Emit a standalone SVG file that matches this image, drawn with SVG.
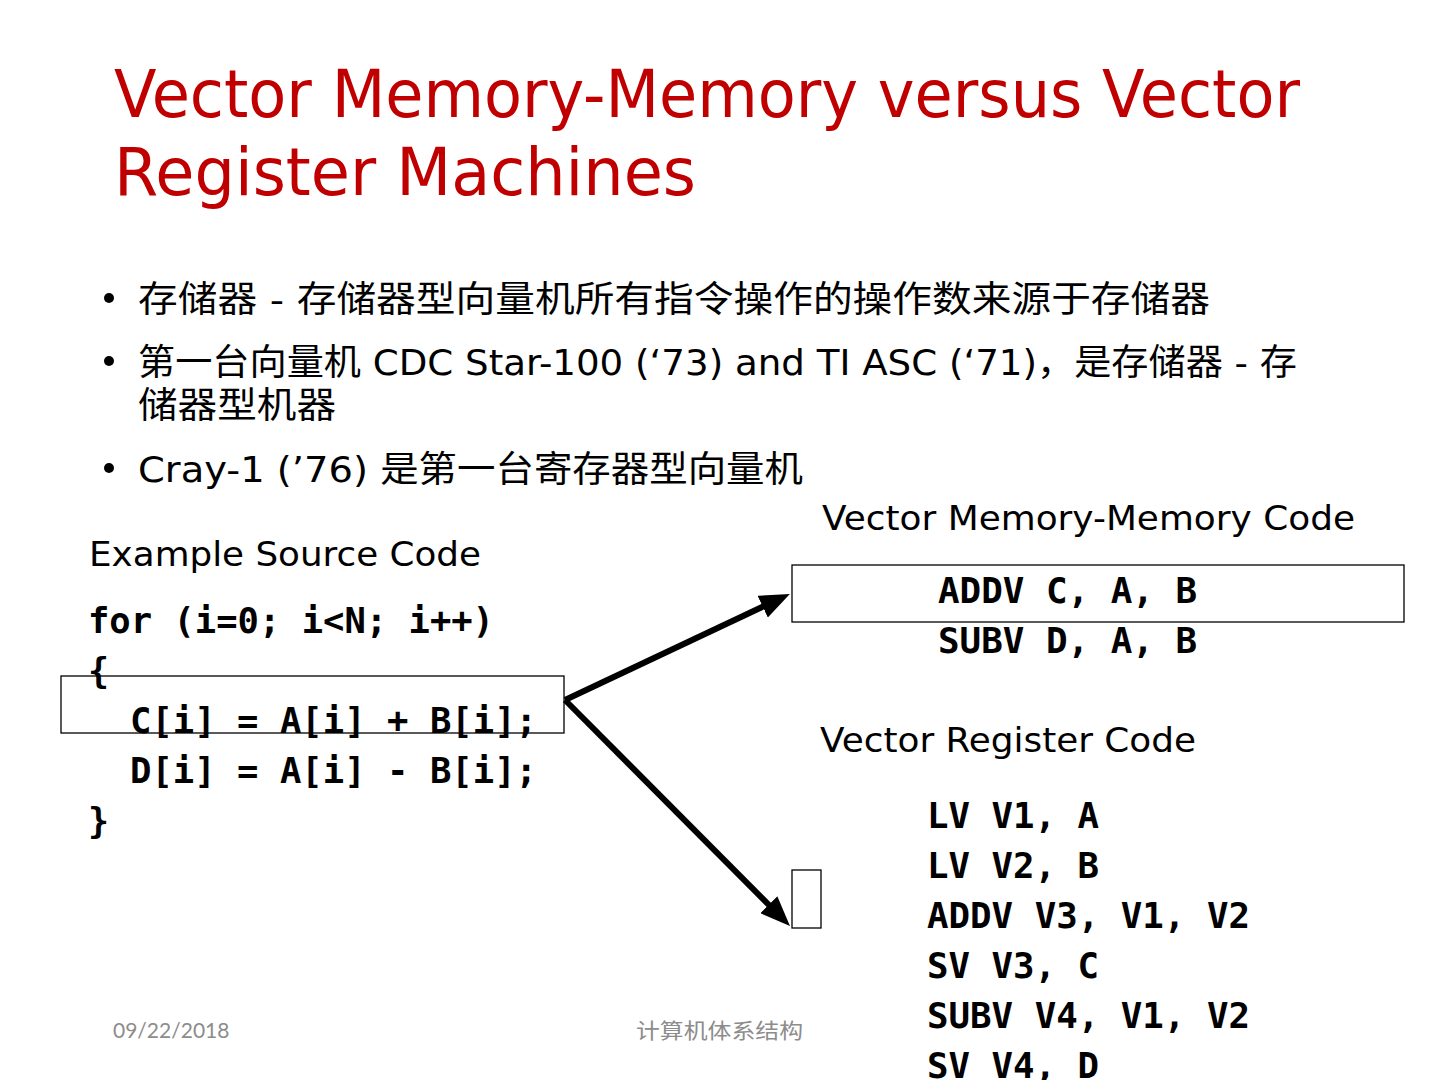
<svg xmlns="http://www.w3.org/2000/svg" width="1440" height="1080" viewBox="0 0 1440 1080">
<style>
.title{font-family:"DejaVu Sans","Liberation Sans",sans-serif;font-size:66px;fill:#C00000}
.bul{font-family:"DejaVu Sans","Noto Sans CJK SC",sans-serif;font-size:36px;fill:#000}
.lab{font-family:"DejaVu Sans","Liberation Sans",sans-serif;font-size:34px;fill:#000}
.code{font-family:"DejaVu Sans Mono","Liberation Mono",monospace;font-weight:bold;font-size:35px;fill:#000}
.foot{font-family:"Lato","Noto Sans CJK SC",sans-serif;font-size:21px;fill:#8c8c8c}
.box{fill:none;stroke:#000;stroke-width:1.3}
.arr{stroke:#000;stroke-width:6;fill:none}
</style>
<defs>
<marker id="ah" markerWidth="5" markerHeight="4" refX="3" refY="2" orient="auto" markerUnits="strokeWidth">
<path d="M0,0 L5,2 L0,4 Z" fill="#000"/>
</marker>
</defs>
<rect width="1440" height="1080" fill="#fff"/>
<g id="title">
<text class="title" x="114" y="117" textLength="1186" lengthAdjust="spacingAndGlyphs">Vector Memory-Memory versus Vector</text>
<text class="title" x="114" y="195" textLength="582" lengthAdjust="spacingAndGlyphs">Register Machines</text>
</g>
<g id="bullets">
<circle cx="109" cy="298" r="5" fill="#000"/>
<text class="bul" x="138" y="312" textLength="1072" lengthAdjust="spacingAndGlyphs">存储器 - 存储器型向量机所有指令操作的操作数来源于存储器</text>
<circle cx="109" cy="361" r="5" fill="#000"/>
<text class="bul" x="138" y="375" textLength="1159" lengthAdjust="spacingAndGlyphs">第一台向量机  CDC Star-100 (‘73) and TI ASC (‘71)，是存储器 - 存</text>
<text class="bul" x="138" y="418" textLength="198" lengthAdjust="spacingAndGlyphs">储器型机器</text>
<circle cx="109" cy="468" r="5" fill="#000"/>
<text class="bul" x="138" y="482" textLength="665" lengthAdjust="spacingAndGlyphs">Cray-1 (’76)  是第一台寄存器型向量机</text>
</g>
<g id="source">
<text class="lab" x="89" y="566" textLength="392" lengthAdjust="spacingAndGlyphs">Example Source Code</text>
<text class="code" x="88" y="633" textLength="406" lengthAdjust="spacingAndGlyphs">for (i=0; i&lt;N; i++)</text>
<text class="code" x="88" y="683">{</text>
<text class="code" x="130" y="733" textLength="407" lengthAdjust="spacingAndGlyphs">C[i] = A[i] + B[i];</text>
<text class="code" x="130" y="783" textLength="407" lengthAdjust="spacingAndGlyphs">D[i] = A[i] - B[i];</text>
<text class="code" x="88" y="833">}</text>
<rect class="box" x="61" y="676" width="503" height="57"/>
</g>
<g id="memmem">
<text class="lab" x="822" y="530" textLength="533" lengthAdjust="spacingAndGlyphs">Vector Memory-Memory Code</text>
<rect class="box" x="792" y="565" width="612" height="57"/>
<text class="code" x="938" y="603" textLength="259" lengthAdjust="spacingAndGlyphs">ADDV C, A, B</text>
<text class="code" x="938" y="653" textLength="259" lengthAdjust="spacingAndGlyphs">SUBV D, A, B</text>
</g>
<g id="vreg">
<text class="lab" x="820" y="752" textLength="376" lengthAdjust="spacingAndGlyphs">Vector Register Code</text>
<rect class="box" x="792" y="870" width="29" height="58"/>
<text class="code" x="927" y="828" textLength="172" lengthAdjust="spacingAndGlyphs">LV V1, A</text>
<text class="code" x="927" y="878" textLength="172" lengthAdjust="spacingAndGlyphs">LV V2, B</text>
<text class="code" x="927" y="928" textLength="323" lengthAdjust="spacingAndGlyphs">ADDV V3, V1, V2</text>
<text class="code" x="927" y="978" textLength="172" lengthAdjust="spacingAndGlyphs">SV V3, C</text>
<text class="code" x="927" y="1028" textLength="323" lengthAdjust="spacingAndGlyphs">SUBV V4, V1, V2</text>
<text class="code" x="927" y="1078" textLength="172" lengthAdjust="spacingAndGlyphs">SV V4, D</text>
</g>
<g id="connectors">
<line class="arr" x1="565" y1="700" x2="779" y2="599" marker-end="url(#ah)"/>
<line class="arr" x1="565" y1="700" x2="781.5" y2="917.5" marker-end="url(#ah)"/>
</g>
<g id="footer">
<text class="foot" x="113" y="1038">09/22/2018</text>
<text class="foot" x="636" y="1038" textLength="167" lengthAdjust="spacingAndGlyphs">计算机体系结构</text>
</g>
</svg>
